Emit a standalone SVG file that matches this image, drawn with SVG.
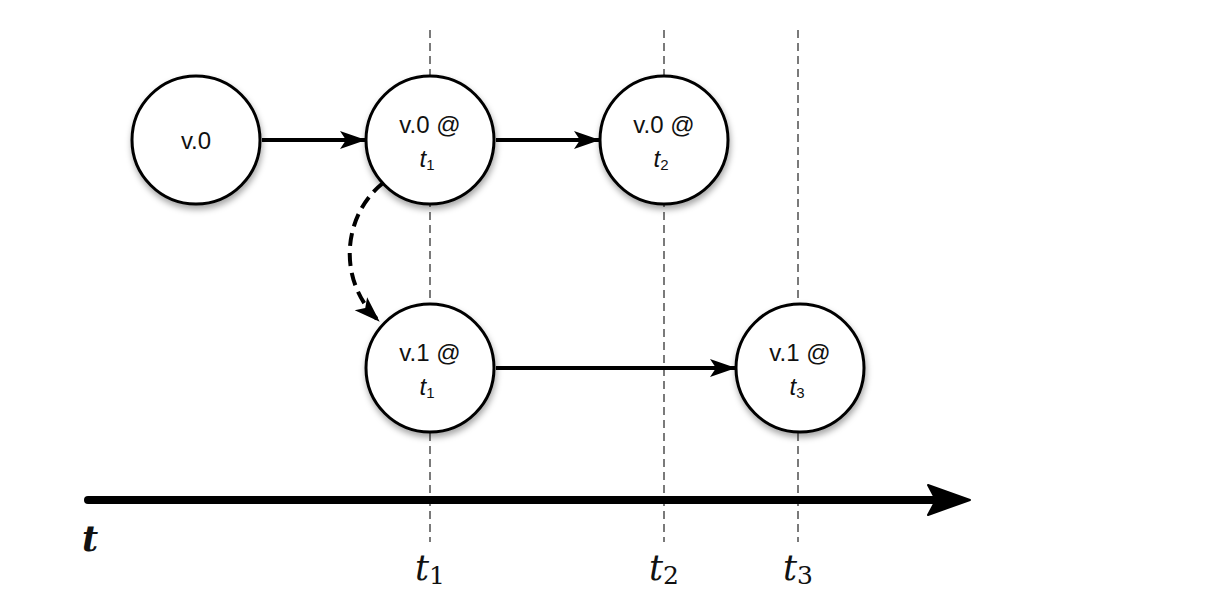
<svg xmlns="http://www.w3.org/2000/svg" width="1222" height="599" viewBox="0 0 1222 599">
<style>
.grid{stroke:#7a7a7a;stroke-width:2;stroke-dasharray:8 5;fill:none}
.node circle{fill:#fff;stroke:#000;stroke-width:3;filter:url(#sh)}
.lbl{font-family:"Liberation Sans",Arial,sans-serif;font-size:24px;fill:#111;text-anchor:middle}
.sub{font-family:"Liberation Sans",Arial,sans-serif;font-style:italic;font-size:24px;fill:#111;text-anchor:middle}
.edge{stroke:#000;stroke-width:4;fill:none;marker-end:url(#ah)}
.math{font-family:"DejaVu Serif","Liberation Serif",serif;font-style:italic;font-size:35px;fill:#111}
</style>
<defs>
<filter id="sh" x="-20%" y="-20%" width="150%" height="150%">
<feDropShadow dx="1" dy="4" stdDeviation="3" flood-color="#000" flood-opacity="0.35"/>
</filter>
<marker id="ah" viewBox="0 0 26 20" refX="25" refY="10" markerWidth="26" markerHeight="20" markerUnits="userSpaceOnUse" orient="auto">
<path d="M0,1 L26,10 L0,19 L6,10 Z" fill="#000"/>
</marker>
</defs>
<rect width="1222" height="599" fill="#fff"/>
<g id="gridlines">
<line class="grid" x1="430" y1="30" x2="430" y2="542"/>
<line class="grid" x1="664" y1="30" x2="664" y2="542"/>
<line class="grid" x1="798" y1="30" x2="798" y2="542"/>
</g>
<g id="axis">
<line x1="88" y1="500" x2="935" y2="500" stroke="#000" stroke-width="8" stroke-linecap="round"/>
<path d="M970,500 L928,485 L936,500 L928,515 Z" fill="#000" stroke="#000" stroke-width="2" stroke-linejoin="round"/>
<text class="math" x="82" y="551" font-weight="bold" font-size="40">t</text>
<text class="math" x="415" y="580">t<tspan font-style="normal" font-size="25" dy="4">1</tspan></text>
<text class="math" x="649" y="580">t<tspan font-style="normal" font-size="25" dy="4">2</tspan></text>
<text class="math" x="783" y="580">t<tspan font-style="normal" font-size="25" dy="4">3</tspan></text>
</g>
<g id="connectors">
<line class="edge" x1="262" y1="140" x2="365" y2="140"/>
<line class="edge" x1="496" y1="140" x2="599" y2="140"/>
<line class="edge" x1="496" y1="368" x2="735" y2="368"/>
<path class="edge" d="M383,183 C343,215 336,280 379,321" stroke-dasharray="13 7"/>
</g>
<g id="n_v0" class="node">
<circle cx="196" cy="140" r="64"/>
<text class="lbl" x="196" y="149">v.0</text>
</g>
<g id="n_v0_t1" class="node">
<circle cx="430" cy="140" r="64"/>
<text class="lbl" x="430" y="133">v.0 @</text>
<text class="sub" x="427" y="167">t<tspan font-style="normal" font-size="15" dy="3">1</tspan></text>
</g>
<g id="n_v0_t2" class="node">
<circle cx="664" cy="140" r="64"/>
<text class="lbl" x="664" y="133">v.0 @</text>
<text class="sub" x="661" y="167">t<tspan font-style="normal" font-size="15" dy="3">2</tspan></text>
</g>
<g id="n_v1_t1" class="node">
<circle cx="430" cy="368" r="64"/>
<text class="lbl" x="430" y="361">v.1 @</text>
<text class="sub" x="427" y="395">t<tspan font-style="normal" font-size="15" dy="3">1</tspan></text>
</g>
<g id="n_v1_t3" class="node">
<circle cx="800" cy="368" r="64"/>
<text class="lbl" x="800" y="361">v.1 @</text>
<text class="sub" x="797" y="395">t<tspan font-style="normal" font-size="15" dy="3">3</tspan></text>
</g>
</svg>
